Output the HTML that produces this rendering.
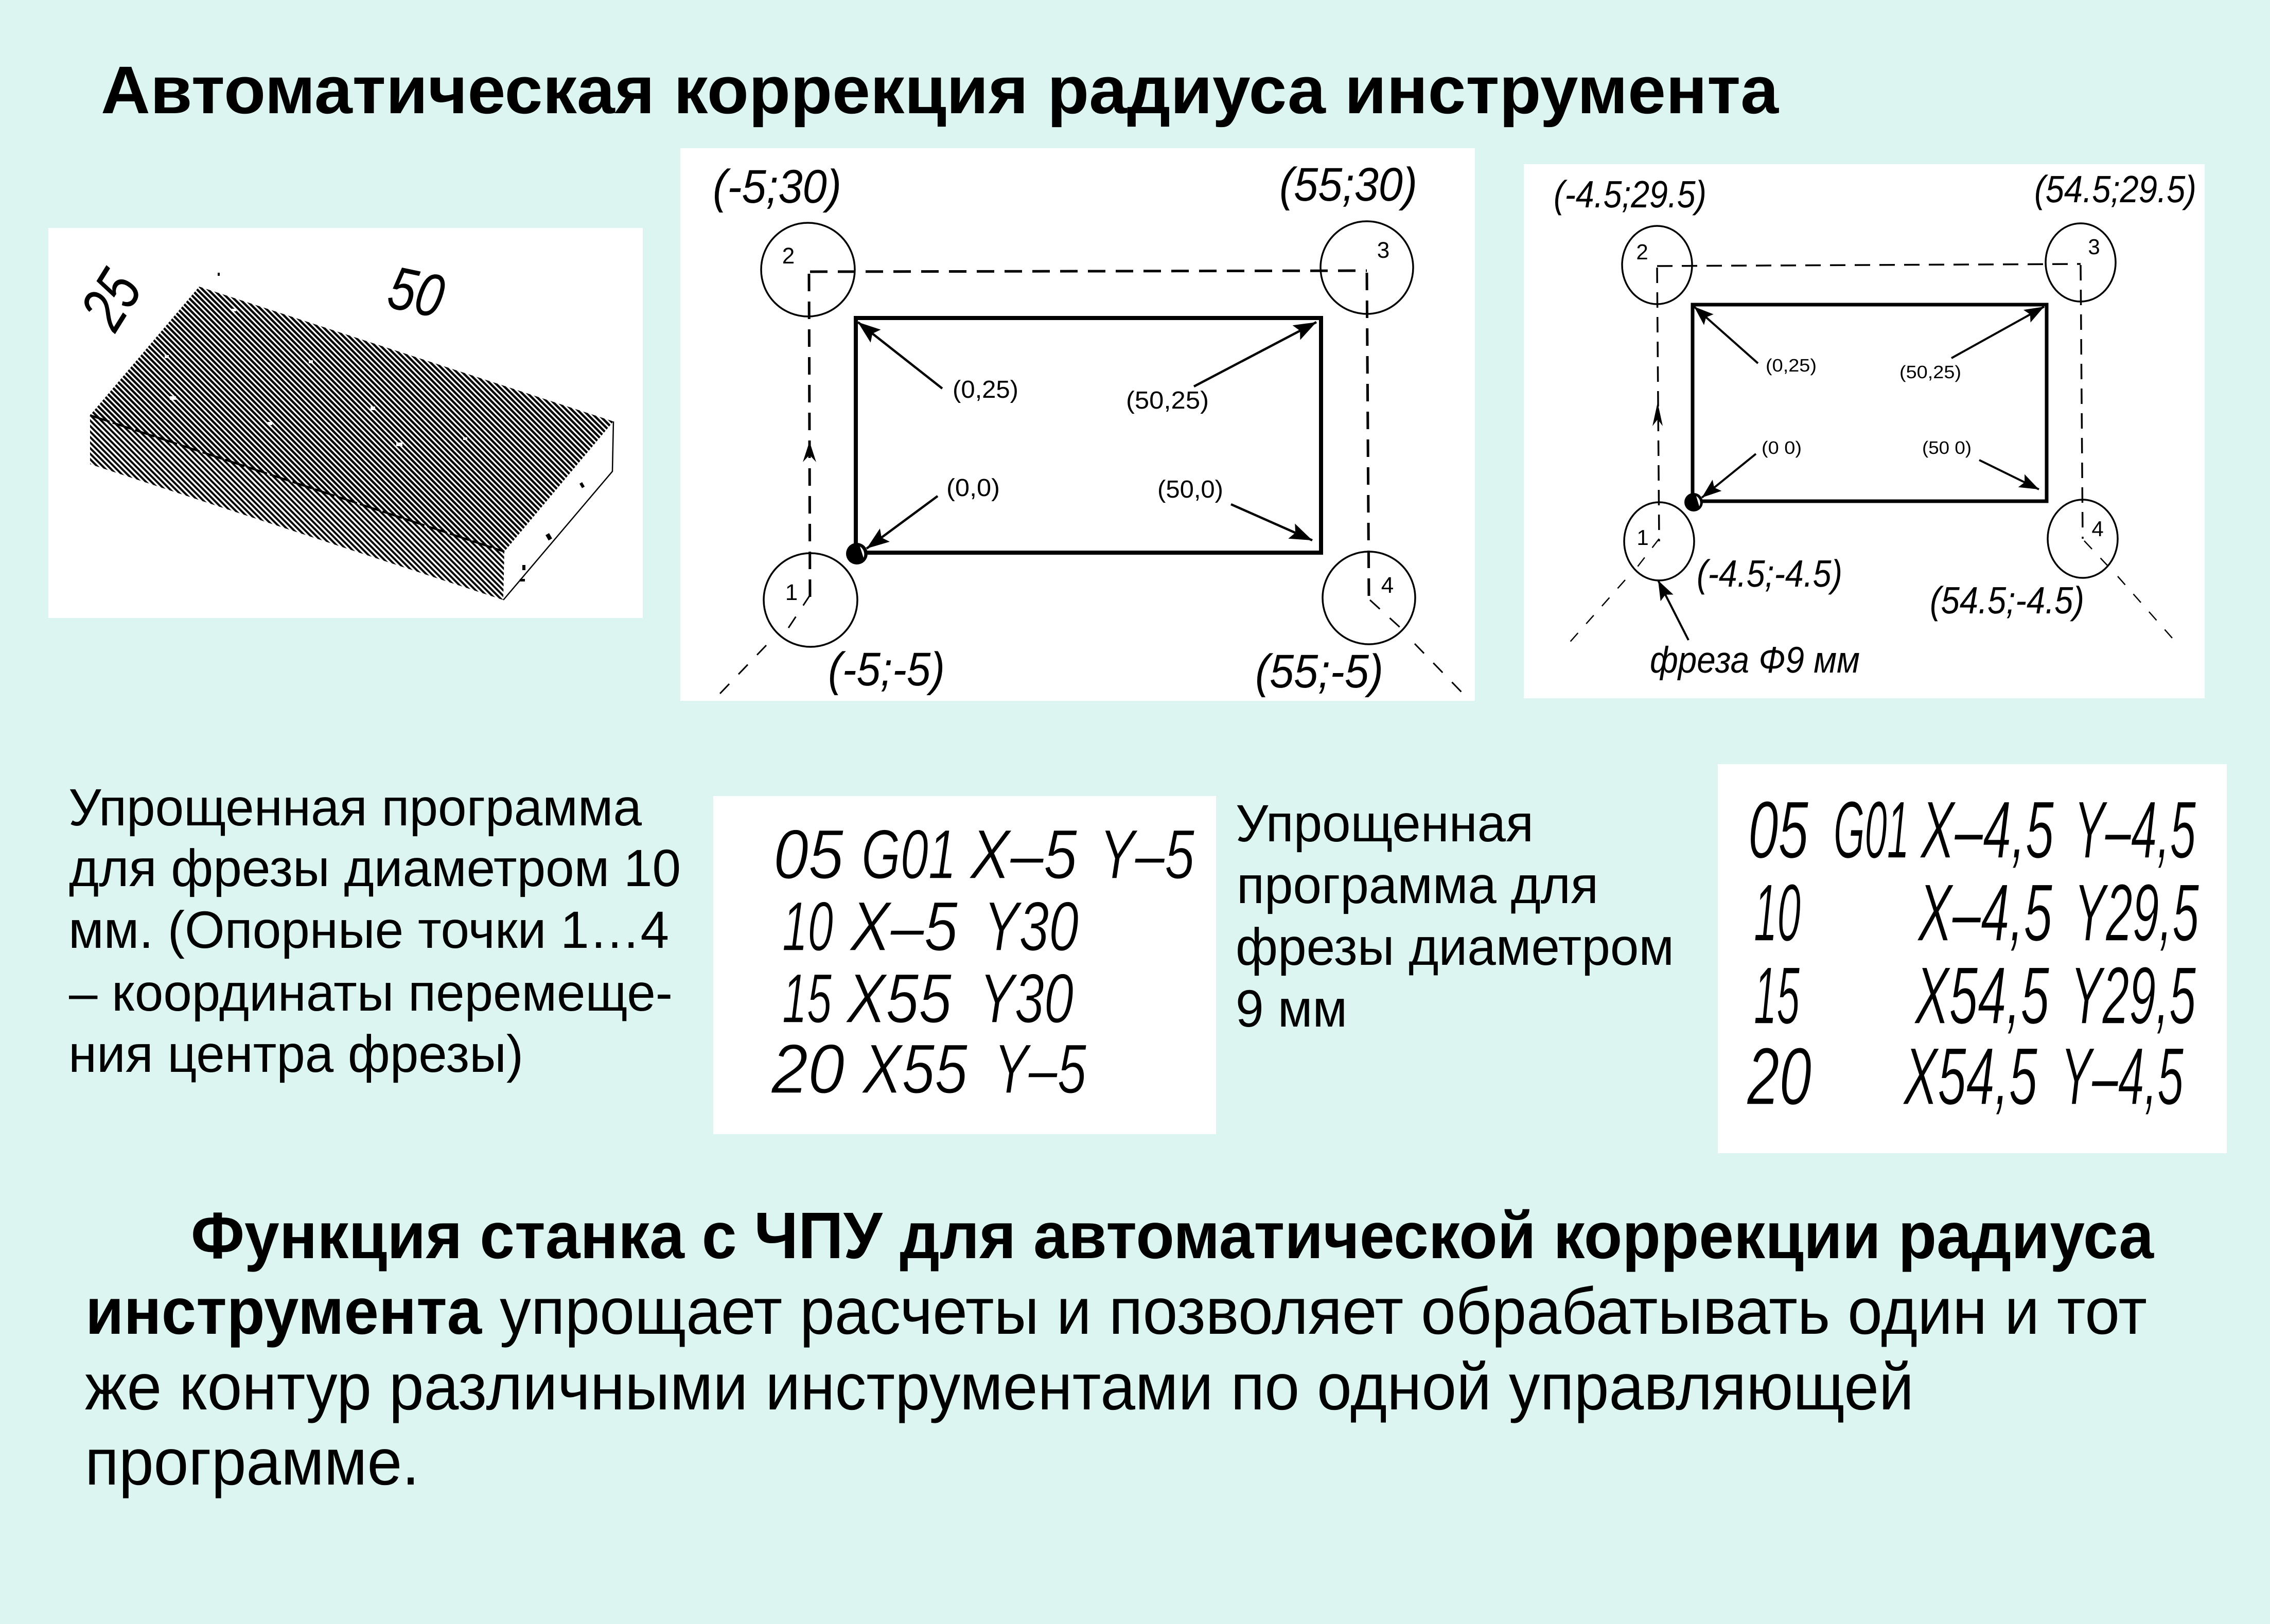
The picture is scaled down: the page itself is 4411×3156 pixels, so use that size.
<!DOCTYPE html>
<html lang="ru">
<head>
<meta charset="utf-8">
<title>Автоматическая коррекция радиуса инструмента</title>
<style>
html,body{margin:0;padding:0;background:#dcf5f1;width:4411px;height:3156px;overflow:hidden}
svg{display:block}
text{font-family:"Liberation Sans","DejaVu Sans",sans-serif;fill:#000;text-rendering:geometricPrecision}
.b{font-weight:bold}
.i{font-style:italic}
.cnc text{stroke:#fff;stroke-width:1.6px;paint-order:normal}
</style>
</head>
<body>
<svg width="4411" height="3156" viewBox="0 0 4411 3156" xmlns="http://www.w3.org/2000/svg">
<defs>
<pattern id="hTop" width="7.6" height="7.6" patternUnits="userSpaceOnUse" patternTransform="rotate(-45)">
<rect width="7.6" height="7.6" fill="#fff"/><rect width="4.4" height="7.6" fill="#000"/>
</pattern>
<pattern id="hFront" width="7.6" height="7.6" patternUnits="userSpaceOnUse" patternTransform="rotate(-45)">
<rect width="7.6" height="7.6" fill="#fff"/><rect width="4" height="7.6" fill="#000"/>
</pattern>
<marker id="a1" markerUnits="userSpaceOnUse" markerWidth="46" markerHeight="36" refX="44" refY="18" orient="auto">
<polygon points="0,2 44,18 0,34 8,18" fill="#000"/>
</marker>
<marker id="a2" markerUnits="userSpaceOnUse" markerWidth="40" markerHeight="30" refX="38" refY="15" orient="auto">
<polygon points="0,1 38,15 0,29 7,15" fill="#000"/>
</marker>
</defs>

<rect width="4411" height="3156" fill="#dcf5f1"/>

<text class="b" x="196" y="220" font-size="131" textLength="3260" lengthAdjust="spacingAndGlyphs">Автоматическая коррекция радиуса инструмента</text>

<!-- Block picture -->
<rect x="94" y="443" width="1155" height="758" fill="#fff"/>
<polygon points="387,557 1192,819 980,1072 175,807" fill="url(#hTop)"/>
<polygon points="175,807 980,1072 978,1166 175,902" fill="url(#hFront)"/>
<polygon points="1192,819 1190,916 978,1166 980,1072" fill="#fff"/>
<polyline points="1192,819 1190,916 978,1166" fill="none" stroke="#000" stroke-width="2.5"/>
<line x1="175" y1="807" x2="980" y2="1072" stroke="#000" stroke-width="4" stroke-dasharray="40 6"/>
<g fill="#fff">
<rect x="450" y="600" width="9" height="5"/><rect x="320" y="690" width="8" height="6"/>
<rect x="330" y="770" width="12" height="7"/><rect x="720" y="790" width="9" height="7"/>
<rect x="770" y="860" width="12" height="7"/><rect x="520" y="820" width="9" height="6"/>
<rect x="600" y="700" width="8" height="6"/><rect x="900" y="850" width="8" height="5"/>
</g>
<g fill="#000">
<rect x="1126" y="940" width="6" height="10" transform="rotate(-30 1126 940)"/>
<rect x="1060" y="1040" width="8" height="12" transform="rotate(-30 1060 1040)"/>
<rect x="1015" y="1098" width="6" height="10"/>
<rect x="1010" y="1125" width="10" height="5"/>
<rect x="423" y="530" width="4" height="6"/>
</g>
<text class="i" x="0" y="0" font-size="124" textLength="104" lengthAdjust="spacingAndGlyphs" text-anchor="middle" transform="translate(215 582) rotate(-58) translate(0 43)">25</text>
<text class="i" x="0" y="0" font-size="118" textLength="106" lengthAdjust="spacingAndGlyphs" text-anchor="middle" transform="translate(809 567) rotate(12) translate(0 41)">50</text>

<!-- Diagram 1 -->
<rect x="1322" y="288" width="1544" height="1074" fill="#fff"/>
<g fill="none" stroke="#000" stroke-width="3.5">
<circle cx="1570" cy="524" r="91"/>
<circle cx="2656" cy="520" r="90"/>
<circle cx="1575" cy="1166" r="91"/>
<circle cx="2660" cy="1162" r="90"/>
</g>
<g fill="none" stroke="#000" stroke-width="5" stroke-dasharray="34 20">
<line x1="1574" y1="528" x2="2656" y2="526"/>
<line x1="1572" y1="532" x2="1574" y2="1170"/>
<line x1="2656" y1="530" x2="2660" y2="1164"/>
</g>
<g fill="none" stroke="#000" stroke-width="3" stroke-dasharray="26 26">
<line x1="1575" y1="1155" x2="1519" y2="1240"/>
<line x1="2662" y1="1166" x2="2728" y2="1226"/>
<line x1="1489" y1="1254" x2="1397" y2="1350"/>
<line x1="2749" y1="1251" x2="2841" y2="1346"/>
</g>
<rect x="1663" y="618" width="904" height="456" fill="none" stroke="#000" stroke-width="8"/>
<g stroke="#000" stroke-width="4.5" fill="none">
<line x1="1831" y1="755" x2="1667" y2="626" marker-end="url(#a1)"/>
<line x1="2320" y1="751" x2="2558" y2="626" marker-end="url(#a1)"/>
<line x1="1822" y1="964" x2="1684" y2="1066" marker-end="url(#a1)"/>
<line x1="2392" y1="980" x2="2550" y2="1050" marker-end="url(#a1)"/>
</g>
<polygon points="1573,858 1560,898 1573,884 1586,898" fill="#000"/>
<circle cx="1665" cy="1076" r="21" fill="#000"/>
<path d="M1671 1062 A18 18 0 0 1 1678 1084 Z" fill="#fff"/>
<text class="i" x="1385" y="394" font-size="92" textLength="250" lengthAdjust="spacingAndGlyphs">(-5;30)</text>
<text class="i" x="2486" y="390" font-size="92" textLength="268" lengthAdjust="spacingAndGlyphs">(55;30)</text>
<text class="i" x="1609" y="1332" font-size="92" textLength="227" lengthAdjust="spacingAndGlyphs">(-5;-5)</text>
<text class="i" x="2439" y="1336" font-size="92" textLength="249" lengthAdjust="spacingAndGlyphs">(55;-5)</text>
<text x="1851" y="773" font-size="48" textLength="128" lengthAdjust="spacingAndGlyphs">(0,25)</text>
<text x="2188" y="794" font-size="48" textLength="161" lengthAdjust="spacingAndGlyphs">(50,25)</text>
<text x="1839" y="964" font-size="48" textLength="104" lengthAdjust="spacingAndGlyphs">(0,0)</text>
<text x="2249" y="967" font-size="48" textLength="128" lengthAdjust="spacingAndGlyphs">(50,0)</text>
<g font-size="44" text-anchor="middle">
<text x="1532" y="512">2</text>
<text x="2688" y="501">3</text>
<text x="1538" y="1166">1</text>
<text x="2696" y="1152">4</text>
</g>

<!-- Diagram 2 -->
<rect x="2961" y="319" width="1323" height="1038" fill="#fff"/>
<g fill="none" stroke="#000" stroke-width="3.5">
<ellipse cx="3220" cy="515" rx="68" ry="76"/>
<ellipse cx="4043" cy="510" rx="68" ry="76"/>
<ellipse cx="3224" cy="1052" rx="68" ry="76"/>
<ellipse cx="4047" cy="1047" rx="68" ry="76"/>
</g>
<g fill="none" stroke="#000" stroke-width="3.5" stroke-dasharray="30 18">
<line x1="3220" y1="517" x2="4043" y2="513"/>
<line x1="3220" y1="520" x2="3224" y2="1052"/>
<line x1="4043" y1="515" x2="4047" y2="1047"/>
</g>
<g fill="none" stroke="#000" stroke-width="2.5" stroke-dasharray="22 24">
<line x1="3224" y1="1047" x2="3176" y2="1109"/>
<line x1="4050" y1="1051" x2="4098" y2="1102"/>
<line x1="3158" y1="1127" x2="3045" y2="1254"/>
<line x1="4115" y1="1120" x2="4229" y2="1249"/>
</g>
<rect x="3289" y="592" width="688" height="382" fill="none" stroke="#000" stroke-width="7"/>
<g stroke="#000" stroke-width="4" fill="none">
<line x1="3416" y1="706" x2="3292" y2="596" marker-end="url(#a2)"/>
<line x1="3792" y1="696" x2="3972" y2="596" marker-end="url(#a2)"/>
<line x1="3412" y1="882" x2="3307" y2="967" marker-end="url(#a2)"/>
<line x1="3846" y1="894" x2="3962" y2="951" marker-end="url(#a2)"/>
<line x1="3281" y1="1244" x2="3222" y2="1128" marker-end="url(#a2)"/>
</g>
<polygon points="3221,782 3211,828 3221,815 3231,828" fill="#000"/>
<circle cx="3291" cy="976" r="18" fill="#000"/>
<path d="M3296 964 A15 15 0 0 1 3302 984 Z" fill="#fff"/>
<text class="i" x="3019" y="403" font-size="74" textLength="297" lengthAdjust="spacingAndGlyphs">(-4.5;29.5)</text>
<text class="i" x="3953" y="393" font-size="74" textLength="315" lengthAdjust="spacingAndGlyphs">(54.5;29.5)</text>
<text class="i" x="3297" y="1140" font-size="74" textLength="283" lengthAdjust="spacingAndGlyphs">(-4.5;-4.5)</text>
<text class="i" x="3750" y="1192" font-size="74" textLength="300" lengthAdjust="spacingAndGlyphs">(54.5;-4.5)</text>
<text class="i" x="3206" y="1307" font-size="72" textLength="408" lengthAdjust="spacingAndGlyphs">фреза Ф9 мм</text>
<text x="3431" y="722" font-size="35" textLength="99" lengthAdjust="spacingAndGlyphs">(0,25)</text>
<text x="3691" y="735" font-size="35" textLength="120" lengthAdjust="spacingAndGlyphs">(50,25)</text>
<text x="3423" y="882" font-size="35" textLength="78" lengthAdjust="spacingAndGlyphs">(0 0)</text>
<text x="3735" y="882" font-size="35" textLength="96" lengthAdjust="spacingAndGlyphs">(50 0)</text>
<g font-size="42" text-anchor="middle">
<text x="3191" y="504">2</text>
<text x="4069" y="494">3</text>
<text x="3192" y="1059">1</text>
<text x="4076" y="1042">4</text>
</g>

<!-- Left paragraph -->
<g font-size="102">
<text x="133" y="1604" textLength="1114" lengthAdjust="spacingAndGlyphs">Упрощенная программа</text>
<text x="134" y="1722" textLength="1189" lengthAdjust="spacingAndGlyphs">для фрезы диаметром 10</text>
<text x="133" y="1842" textLength="1167" lengthAdjust="spacingAndGlyphs">мм. (Опорные точки 1…4</text>
<text x="134" y="1964" textLength="1173" lengthAdjust="spacingAndGlyphs">– координаты перемеще-</text>
<text x="133" y="2083" textLength="884" lengthAdjust="spacingAndGlyphs">ния центра фрезы)</text>
</g>

<!-- Program 1 -->
<rect x="1386" y="1547" width="977" height="657" fill="#fff"/>
<g class="cnc" font-size="136" font-style="italic">
<text x="1503" y="1707" textLength="136" lengthAdjust="spacingAndGlyphs">05</text>
<text x="1674" y="1707" textLength="184" lengthAdjust="spacingAndGlyphs">G01</text>
<text x="1885" y="1707" textLength="208" lengthAdjust="spacingAndGlyphs">X–5</text>
<text x="2136" y="1707" textLength="185" lengthAdjust="spacingAndGlyphs">Y–5</text>
<text x="1520" y="1847" textLength="99" lengthAdjust="spacingAndGlyphs">10</text>
<text x="1652" y="1847" textLength="209" lengthAdjust="spacingAndGlyphs">X–5</text>
<text x="1911" y="1847" textLength="185" lengthAdjust="spacingAndGlyphs">Y30</text>
<text x="1520" y="1987" textLength="96" lengthAdjust="spacingAndGlyphs">15</text>
<text x="1645" y="1987" textLength="204" lengthAdjust="spacingAndGlyphs">X55</text>
<text x="1903" y="1987" textLength="183" lengthAdjust="spacingAndGlyphs">Y30</text>
<text x="1499" y="2124" textLength="142" lengthAdjust="spacingAndGlyphs">20</text>
<text x="1676" y="2124" textLength="204" lengthAdjust="spacingAndGlyphs">X55</text>
<text x="1931" y="2124" textLength="180" lengthAdjust="spacingAndGlyphs">Y–5</text>
</g>

<!-- Middle paragraph -->
<g font-size="102">
<text x="2401" y="1635" textLength="579" lengthAdjust="spacingAndGlyphs">Упрощенная</text>
<text x="2403" y="1755" textLength="703" lengthAdjust="spacingAndGlyphs">программа для</text>
<text x="2401" y="1875" textLength="852" lengthAdjust="spacingAndGlyphs">фрезы диаметром</text>
<text x="2401" y="1995" textLength="217" lengthAdjust="spacingAndGlyphs">9 мм</text>
</g>

<!-- Program 2 -->
<rect x="3338" y="1485" width="989" height="756" fill="#fff"/>
<g class="cnc" font-size="158" font-style="italic">
<text x="3397" y="1667" textLength="117" lengthAdjust="spacingAndGlyphs">05</text>
<text x="3563" y="1667" textLength="147" lengthAdjust="spacingAndGlyphs">G01</text>
<text x="3732" y="1667" textLength="259" lengthAdjust="spacingAndGlyphs">X–4,5</text>
<text x="4030" y="1667" textLength="237" lengthAdjust="spacingAndGlyphs">Y–4,5</text>
<text x="3408" y="1828" textLength="91" lengthAdjust="spacingAndGlyphs">10</text>
<text x="3727" y="1828" textLength="261" lengthAdjust="spacingAndGlyphs">X–4,5</text>
<text x="4030" y="1828" textLength="243" lengthAdjust="spacingAndGlyphs">Y29,5</text>
<text x="3408" y="1989" textLength="89" lengthAdjust="spacingAndGlyphs">15</text>
<text x="3721" y="1989" textLength="261" lengthAdjust="spacingAndGlyphs">X54,5</text>
<text x="4023" y="1989" textLength="244" lengthAdjust="spacingAndGlyphs">Y29,5</text>
<text x="3395" y="2146" textLength="125" lengthAdjust="spacingAndGlyphs">20</text>
<text x="3699" y="2146" textLength="260" lengthAdjust="spacingAndGlyphs">X54,5</text>
<text x="4004" y="2146" textLength="239" lengthAdjust="spacingAndGlyphs">Y–4,5</text>
</g>

<!-- Bottom paragraph -->
<g font-size="128">
<text class="b" x="371" y="2445" textLength="3814" lengthAdjust="spacingAndGlyphs">Функция станка с ЧПУ для автоматической коррекции радиуса</text>
<text class="b" x="166" y="2592" textLength="770" lengthAdjust="spacingAndGlyphs">инструмента</text>
<text x="971" y="2592" textLength="3201" lengthAdjust="spacingAndGlyphs">упрощает расчеты и позволяет обрабатывать один и тот</text>
<text x="165" y="2739" textLength="3554" lengthAdjust="spacingAndGlyphs">же контур различными инструментами по одной управляющей</text>
<text x="165" y="2885" textLength="650" lengthAdjust="spacingAndGlyphs">программе.</text>
</g>
</svg>
</body>
</html>
